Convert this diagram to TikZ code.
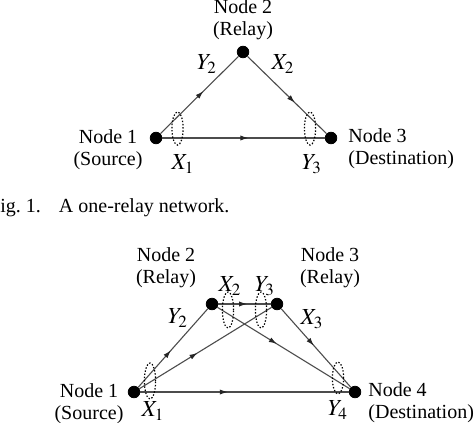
\documentclass[tikz,border=0pt]{standalone}
\usepackage{mathptmx}
\usepackage[no-math]{fontspec}
\setmainfont{Liberation Serif}
\usetikzlibrary{arrows.meta,decorations.markings}
\begin{document}
\begin{tikzpicture}[x=0.5pt,y=-0.5pt,>=latex]
\tikzset{
  terminal/.style={draw,shape=circle,fill=black,inner sep=0pt,minimum size=5.8pt},
  edge/.style={draw=black!70,line width=0.55pt},
  mid/.style={postaction={decorate,decoration={markings,
    mark=at position #1 with {\arrow[black!85]{Latex[length=4pt,width=2.6pt]}}}}},
  grp/.style={draw,line width=0.6pt,dash pattern=on 0.7pt off 0.9pt},
  tag/.style={inner sep=0pt,align=center,font=\fontsize{10}{11}\selectfont},
  sig/.style={inner sep=0pt,font=\fontsize{11.5}{12}\selectfont}
}
\useasboundingbox (0,0) rectangle (474,422);
% one relay
\node[terminal] (src) at (156,138) {};
\node[terminal] (relay) at (243,52) {};
\node[terminal] (dst) at (331,138) {};
\draw[edge,mid=0.55] (src) -- (relay);
\draw[edge,mid=0.6] (relay) -- (dst);
\draw[edge,mid=0.53] (src) -- (dst);
\draw[grp] (177.5,128.5) ellipse (2.8pt and 8.3pt);
\draw[grp] (310,128.5) ellipse (2.8pt and 8.3pt);
\node[tag] (srcname) at (108,150) {Node 1\\(Source)};
\node[tag] (relayname) at (243,20) {Node 2\\(Relay)};
\node[tag,align=left,anchor=west] (dstname) at (348,149) {Node 3\\(Destination)};
\node[sig] (y2) at (207,64) {$Y_2$};
\node[sig] (x2) at (283,64) {$X_2$};
\node[sig] (x1) at (183,164) {$X_1$};
\node[sig] (y3) at (312,164) {$Y_3$};
\node[tag,anchor=west] (caption) at (0,208) {ig.~1.\hspace{9pt}A one-relay network.};
% two relays
\node[terminal] (srcB) at (134,392) {};
\node[terminal] (relayA) at (212,304) {};
\node[terminal] (relayB) at (277,304) {};
\node[terminal] (dstB) at (355,392) {};
\draw[edge,mid=0.47] (srcB) -- (relayA);
\draw[edge,mid=0.44] (srcB) -- (relayB);
\draw[edge,mid=0.42] (srcB) -- (dstB);
\draw[edge,mid=0.55] (relayA) -- (relayB);
\draw[edge,mid=0.45] (relayA) -- (dstB);
\draw[edge,mid=0.47] (relayB) -- (dstB);
\draw[grp] (150,381) ellipse (2.8pt and 9pt);
\draw[grp] (228,310) ellipse (2.8pt and 9pt);
\draw[grp] (261,310) ellipse (2.8pt and 9pt);
\draw[grp] (338,378) ellipse (2.8pt and 8pt);
\node[tag] (srcBname) at (89,404) {Node 1\\(Source)};
\node[tag] (relayAname) at (166,268) {Node 2\\(Relay)};
\node[tag] (relayBname) at (330,268) {Node 3\\(Relay)};
\node[tag,align=left,anchor=west] (dstBname) at (368,403) {Node 4\\(Destination)};
\node[sig] (y2B) at (178,318) {$Y_2$};
\node[sig] (x2B) at (230,286) {$X_2$};
\node[sig] (y3B) at (265,286) {$Y_3$};
\node[sig] (x3B) at (312,319) {$X_3$};
\node[sig] (x1B) at (153,411) {$X_1$};
\node[sig] (y4B) at (338,410) {$Y_4$};
\end{tikzpicture}
\end{document}
